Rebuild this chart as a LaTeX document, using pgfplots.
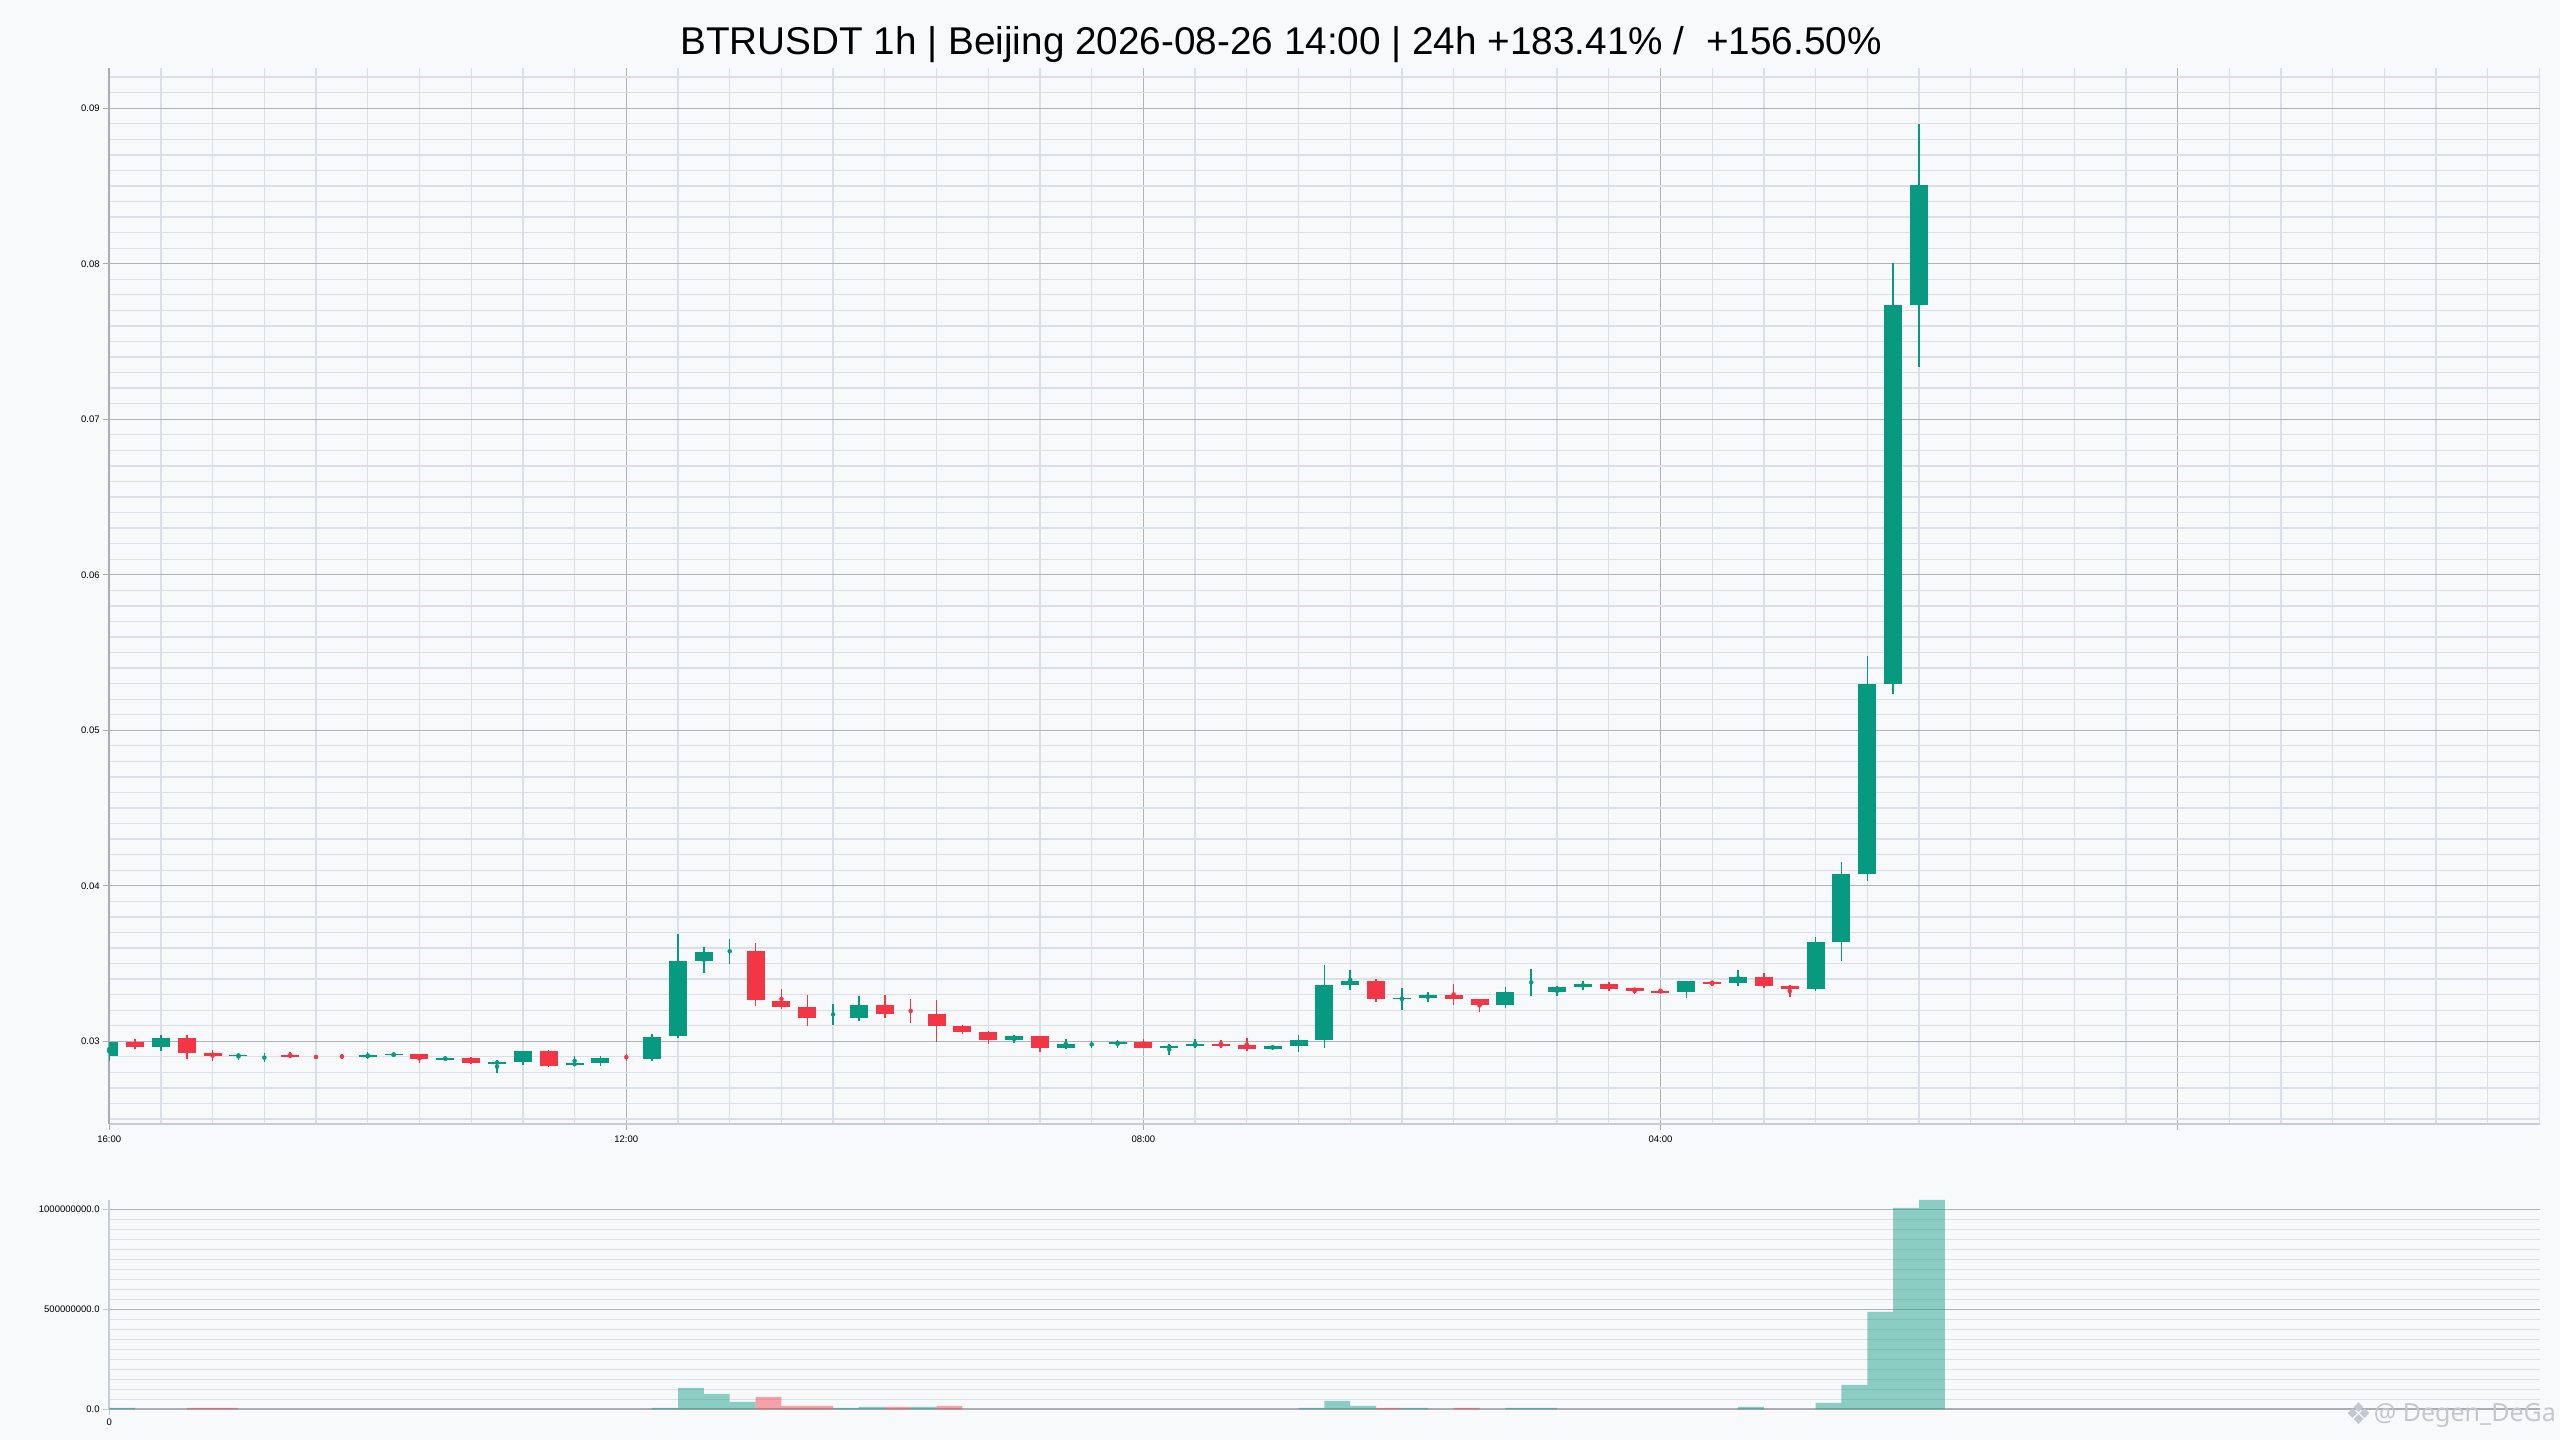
\documentclass[border=0pt]{standalone}
\usepackage{fontspec}
\setmainfont{Liberation Sans}
\newfontfamily\wmfont{Noto Sans}
\newfontfamily\symfont{DejaVu Sans}
\usepackage{pgfplots}
\usepackage{pgfplotstable}
\pgfplotsset{compat=1.18}

\definecolor{bg}{RGB}{248,249,251}
\definecolor{cgreen}{RGB}{8,153,129}
\definecolor{cred}{RGB}{242,54,69}
\definecolor{gmajor}{RGB}{176,179,185}
\definecolor{gminor}{RGB}{218,224,232}
\definecolor{axblue}{RGB}{197,204,214}
\definecolor{axgray}{RGB}{170,174,180}
\definecolor{wm}{RGB}{196,200,206}

% candles (price): x = hour index, o, hi, lo, c
\pgfplotstableread{
x o hi lo c
0 0.02904 0.02996 0.02874 0.02994
2 0.02964 0.03039 0.02938 0.03019
5 0.02906 0.02925 0.02880 0.02912
6 0.02910 0.02923 0.02867 0.02910
10 0.02897 0.02931 0.02886 0.02910
11 0.02912 0.02925 0.02899 0.02919
13 0.02884 0.02908 0.02871 0.02891
15 0.02861 0.02878 0.02797 0.02865
16 0.02865 0.02936 0.02846 0.02936
18 0.02846 0.02908 0.02841 0.02859
19 0.02863 0.02906 0.02844 0.02895
21 0.02889 0.03047 0.02876 0.03028
22 0.03036 0.03690 0.03024 0.03517
23 0.03519 0.03607 0.03442 0.03575
24 0.03574 0.03658 0.03499 0.03574
28 0.03150 0.03240 0.03105 0.03150
29 0.03150 0.03292 0.03131 0.03234
35 0.03009 0.03041 0.02989 0.03034
37 0.02957 0.03015 0.02951 0.02983
38 0.02964 0.03002 0.02957 0.02964
39 0.02983 0.03009 0.02957 0.02996
41 0.02957 0.02983 0.02912 0.02970
42 0.02970 0.03015 0.02957 0.02983
45 0.02951 0.02976 0.02944 0.02970
46 0.02970 0.03041 0.02931 0.03009
47 0.03009 0.03491 0.02957 0.03362
48 0.03362 0.03459 0.03330 0.03388
50 0.03272 0.03343 0.03201 0.03279
51 0.03279 0.03317 0.03253 0.03298
54 0.03234 0.03349 0.03214 0.03317
55 0.03312 0.03465 0.03292 0.03312
56 0.03317 0.03356 0.03292 0.03349
57 0.03349 0.03388 0.03330 0.03369
61 0.03316 0.03387 0.03278 0.03387
63 0.03374 0.03457 0.03355 0.03412
66 0.03335 0.03669 0.03323 0.03637
67 0.03637 0.04156 0.03515 0.04073
68 0.04075 0.05477 0.04033 0.05297
69 0.05297 0.08005 0.05231 0.07736
70 0.07736 0.08898 0.07336 0.08508
}\greentab

\pgfplotstableread{
x o hi lo c
1 0.02994 0.03013 0.02951 0.02964
3 0.03019 0.03039 0.02886 0.02925
4 0.02923 0.02942 0.02874 0.02906
7 0.02910 0.02929 0.02893 0.02903
8 0.02900 0.02912 0.02886 0.02900
9 0.02900 0.02919 0.02884 0.02900
12 0.02916 0.02918 0.02861 0.02884
14 0.02893 0.02897 0.02856 0.02859
17 0.02936 0.02942 0.02833 0.02839
20 0.02898 0.02919 0.02876 0.02898
25 0.03581 0.03632 0.03227 0.03266
26 0.03259 0.03337 0.03208 0.03221
27 0.03221 0.03298 0.03099 0.03150
30 0.03234 0.03298 0.03150 0.03176
31 0.03160 0.03272 0.03118 0.03160
32 0.03176 0.03266 0.02996 0.03099
33 0.03099 0.03105 0.03047 0.03060
34 0.03060 0.03066 0.02983 0.03009
36 0.03034 0.03034 0.02931 0.02957
40 0.02996 0.03015 0.02957 0.02957
43 0.02983 0.03009 0.02957 0.02970
44 0.02976 0.03021 0.02938 0.02951
49 0.03388 0.03401 0.03253 0.03272
52 0.03298 0.03369 0.03234 0.03272
53 0.03272 0.03272 0.03189 0.03234
58 0.03369 0.03381 0.03324 0.03336
59 0.03342 0.03342 0.03303 0.03323
60 0.03323 0.03335 0.03316 0.03316
62 0.03380 0.03387 0.03355 0.03374
64 0.03412 0.03438 0.03342 0.03355
65 0.03355 0.03361 0.03284 0.03335
}\redtab

% volume in millions, x = hour index (bar spans [x, x+1])
\pgfplotstableread{
x v
0 7
21 7
22 107
23 77
24 37
28 7
29 12
31 12
46 7
47 42
48 17
50 7
54 7
55 7
63 12
66 32
67 122
68 487
69 1007
70 1047
}\vgreen

\pgfplotstableread{
x v
3 7
4 7
25 62
26 17
27 17
30 12
32 17
49 7
52 7
}\vred

\pgfplotsset{
  wick/.style={only marks, mark=none, color=#1,
    error bars/.cd, y dir=both, y explicit, error mark=none,
    error bar style={line width=1.5pt, color=#1}},
  body/.style={only marks, mark=none, color=#1, unbounded coords=discard,
    error bars/.cd, y dir=both, y explicit, error mark=none,
    error bar style={line width=18pt, color=#1}},
}

\begin{document}
\begin{tikzpicture}
\fill[bg] (0pt,0pt) rectangle (2560pt,1440pt);
\useasboundingbox (0pt,0pt) rectangle (2560pt,1440pt);

\node[anchor=base, inner sep=0pt, font=\fontsize{38.7}{42}\selectfont] at (1281pt,1385pt)
  {BTRUSDT 1h | Beijing 2026-08-26 14:00 | 24h +183.41\% /\ \ +156.50\%};

% ---------- price axis ----------
\begin{axis}[
  at={(109.2pt,316pt)}, anchor=south west,
  scale only axis, width=2430.4pt, height=1055.7pt,
  xmin=0, xmax=94, ymin=0.02468, ymax=0.09257,
  axis x line=bottom, axis y line=left, axis line style={-},
  x axis line style={draw=axblue, line width=1.6pt},
  y axis line style={draw=axgray, line width=1.6pt},
  xtick={0,20,40,60,80}, xticklabels={16:00,12:00,08:00,04:00,},
  minor xtick={2,4,...,94},
  ytick={0.03,0.04,0.05,0.06,0.07,0.08,0.09},
  yticklabels={0.03,0.04,0.05,0.06,0.07,0.08,0.09},
  minor ytick={0.025,0.026,...,0.0925},
  scaled y ticks=false,
  tick align=outside, major tick length=6pt, minor tick length=0pt,
  tick style={draw=axgray, line width=1pt},
  grid=both,
  major grid style={draw=gmajor, line width=1.3pt},
  minor grid style={draw=gminor, line width=1.3pt},
  ticklabel style={font=\fontsize{9.5}{10}\selectfont, text=black},
  xticklabel style={yshift=-2pt},
  clip=true,
]
% wicks
\addplot[wick=cgreen]
  table[x=x, y expr={(\thisrow{hi}+\thisrow{lo})/2}, y error expr={(\thisrow{hi}-\thisrow{lo})/2}] {\greentab};
\addplot[wick=cred]
  table[x=x, y expr={(\thisrow{hi}+\thisrow{lo})/2}, y error expr={(\thisrow{hi}-\thisrow{lo})/2}] {\redtab};
% bodies (dojis with open = close have no body)
\addplot[body=cgreen]
  table[x=x, y expr={abs(\thisrow{c}-\thisrow{o})<0.000001 ? nan : (\thisrow{o}+\thisrow{c})/2}, y error expr={abs(\thisrow{c}-\thisrow{o})/2}] {\greentab};
\addplot[body=cred]
  table[x=x, y expr={abs(\thisrow{c}-\thisrow{o})<0.000001 ? nan : (\thisrow{o}+\thisrow{c})/2}, y error expr={abs(\thisrow{c}-\thisrow{o})/2}] {\redtab};
\end{axis}

% ---------- volume axis ----------
\begin{axis}[
  at={(109.2pt,30.7pt)}, anchor=south west,
  scale only axis, width=2430.4pt, height=209.3pt,
  xmin=0, xmax=94, ymin=0, ymax=1046.5,
  axis x line=bottom, axis y line=left, axis line style={-},
  x axis line style={draw=axgray, line width=1.6pt},
  y axis line style={draw=axblue, line width=1.6pt},
  xtick={0}, xticklabels={0},
  ytick={0,500,1000}, yticklabels={0.0,500000000.0,1000000000.0},
  minor ytick={50,100,...,950},
  scaled y ticks=false,
  tick align=outside, major tick length=6pt, minor tick length=0pt,
  tick style={draw=axblue, line width=1pt},
  ymajorgrids, yminorgrids,
  major grid style={draw=gmajor, line width=1.3pt},
  minor grid style={draw=gminor, line width=1.3pt},
  ticklabel style={font=\fontsize{9.5}{10}\selectfont, text=black},
]
\addplot[ybar, bar width=1, bar shift=0pt, fill=cgreen, fill opacity=0.45, draw=none]
  table[x expr={\thisrow{x}+0.5}, y=v] {\vgreen};
\addplot[ybar, bar width=1, bar shift=0pt, fill=cred, fill opacity=0.45, draw=none]
  table[x expr={\thisrow{x}+0.5}, y=v] {\vred};
\end{axis}

\node[anchor=center, inner sep=0pt, text=wm, font=\symfont\fontsize{30}{32}\selectfont] at (2359pt,26pt) {❖};
\node[anchor=base east, inner sep=0pt, text=wm, font=\wmfont\fontsize{25}{28}\selectfont] at (2556pt,18pt) {@ Degen\_DeGa};
\end{tikzpicture}
\end{document}
